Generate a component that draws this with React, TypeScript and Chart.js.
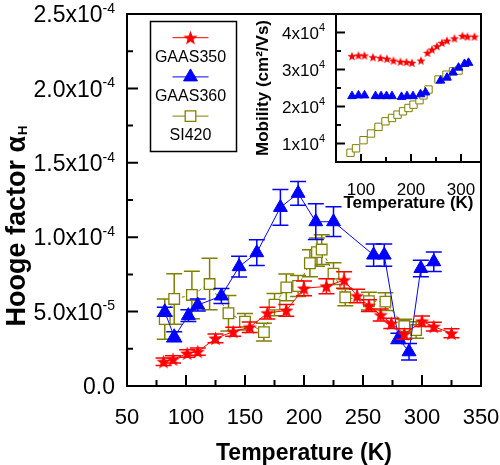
import React, { useEffect, useRef } from 'react';
import { Chart, registerables } from 'chart.js';
import { drawPoint } from 'chart.js/helpers';
Chart.register(...registerables);

const FONT = "'Liberation Sans', Arial, Helvetica, sans-serif";
const RED = '#ff0000';
const BLUE = '#0000ff';
const OLIVE = '#808000';

// ---------- main plot: Hooge factor (values in units of 1e-5) ----------
const T_GAAS350 = [81, 89, 101, 110, 125, 140, 154, 169, 185, 200, 219, 234, 245, 255, 265, 274, 285, 300, 310, 325];
const A_GAAS350 = [1.63, 1.79, 2.19, 2.31, 3.2, 3.65, 3.95, 4.9, 5.08, 6.56, 6.7, 7.12, 6.05, 5.4, 4.77, 4.21, 3.49, 4.35, 3.99, 3.54];
const E_GAAS350 = [0.25, 0.25, 0.25, 0.25, 0.3, 0.3, 0.35, 0.4, 0.4, 0.5, 0.5, 0.55, 0.45, 0.4, 0.4, 0.35, 0.35, 0.35, 0.3, 0.3];

const T_GAAS360 = [82, 90, 102, 110, 130, 145, 160, 180, 195, 210, 225, 259, 268, 280, 289, 299, 310];
const A_GAAS360 = [4.99, 3.31, 4.73, 5.44, 6.05, 8.02, 8.96, 12.0, 12.95, 11.04, 11.04, 8.8, 8.8, 3.2, 2.3, 7.9, 8.35];
const E_GAAS360 = [0.3, 0.33, 0.4, 0.4, 0.5, 0.7, 0.87, 1.2, 0.8, 1.2, 1.0, 0.75, 0.75, 0.35, 0.55, 0.55, 0.65];

const T_SI420 = [82, 90, 105, 120, 136, 150, 166, 175, 185, 195, 205, 211, 215, 225, 235, 255, 269, 285, 295];
const A_SI420 = [4.5, 5.85, 6.12, 6.85, 4.89, 4.32, 3.62, 5.47, 6.63, 6.72, 8.25, 9.0, 9.17, 7.55, 5.96, 5.7, 5.67, 4.03, 3.76];
const E_SI420 = [1.35, 1.7, 1.6, 1.73, 1.2, 0.56, 0.6, 0.75, 0.9, 0.7, 0.9, 0.95, 1.0, 0.73, 0.56, 0.6, 0.6, 0.45, 0.55];

const MAIN_Y_TICKS = [0, 5, 10, 15, 20, 25];
const MAIN_Y_MANT = ['0.0', '5.0x10', '1.0x10', '1.5x10', '2.0x10', '2.5x10'];
const MAIN_Y_EXP = ['', '-5', '-4', '-4', '-4', '-4'];

// ---------- inset: mobility (values in units of 1e4 cm²/Vs) ----------
const IT_GAAS350 = [82, 95, 107, 124, 139, 152, 165, 179, 191, 202, 220, 233, 242, 252, 262, 272, 287, 303, 313, 327];
const IM_GAAS350 = [3.36, 3.38, 3.38, 3.33, 3.31, 3.29, 3.24, 3.21, 3.2, 3.18, 3.24, 3.45, 3.54, 3.63, 3.72, 3.78, 3.84, 3.91, 3.89, 3.89];

const IT_GAAS360 = [82, 95, 107, 129, 140, 151, 162, 181, 192, 204, 219, 229, 259, 272, 284, 295, 307, 315];
const IM_GAAS360 = [2.28, 2.3, 2.3, 2.28, 2.28, 2.28, 2.28, 2.26, 2.28, 2.28, 2.33, 2.38, 2.7, 2.78, 2.92, 3.05, 3.15, 3.18];

const IT_SI420 = [79, 90, 105, 120, 135, 149, 162, 173, 184, 195, 205, 217, 225, 235, 255, 271, 284, 295];
const IM_SI420 = [0.75, 0.87, 1.09, 1.27, 1.45, 1.6, 1.69, 1.78, 1.87, 1.96, 2.05, 2.17, 2.3, 2.46, 2.73, 2.86, 2.95, 2.97];

const INSET_X_TICKS = [100, 200, 300];
const INSET_Y_TICKS = [1, 2, 3, 4];
const INSET_Y_MANT = ['1x10', '2x10', '3x10', '4x10'];
const INSET_Y_EXP = ['4', '4', '4', '4'];

const LEGEND_NAMES = ['GAAS350', 'GAAS360', 'SI420'];

function makeStar(r: number, color: string): HTMLCanvasElement {
  const size = Math.ceil(r * 2 + 2);
  const c = document.createElement('canvas');
  c.width = size;
  c.height = size;
  const ctx = c.getContext('2d')!;
  const cx = size / 2;
  const cy = size / 2 + r * 0.08;
  ctx.beginPath();
  for (let i = 0; i < 10; i++) {
    const rr = i % 2 === 0 ? r : r * 0.42;
    const a = -Math.PI / 2 + (i * Math.PI) / 5;
    const x = cx + rr * Math.cos(a);
    const y = cy + rr * Math.sin(a);
    if (i === 0) ctx.moveTo(x, y);
    else ctx.lineTo(x, y);
  }
  ctx.closePath();
  ctx.fillStyle = color;
  ctx.fill();
  return c;
}

function drawSupLabel(ctx: CanvasRenderingContext2D, base: string, sup: string, xRight: number, yMid: number, bs: number, ss: number) {
  ctx.font = `${bs}px ${FONT}`;
  const wb = ctx.measureText(base).width;
  ctx.font = `${ss}px ${FONT}`;
  const ws = sup ? ctx.measureText(sup).width : 0;
  ctx.textAlign = 'left';
  ctx.textBaseline = 'alphabetic';
  const cap = bs * 0.716;
  const baseline = yMid + cap / 2;
  ctx.font = `${bs}px ${FONT}`;
  ctx.fillText(base, xRight - ws - wb, baseline);
  if (sup) {
    ctx.font = `${ss}px ${FONT}`;
    ctx.fillText(sup, xRight - ws, baseline - cap - 3 + ss * 0.716);
  }
}

function drawTicksX(ctx: CanvasRenderingContext2D, scale: any, yEdge: number, maj: number, min: number) {
  const vals = scale.ticks.map((t: any) => t.value);
  ctx.beginPath();
  vals.forEach((v: number) => {
    const x = scale.getPixelForValue(v);
    ctx.moveTo(x, yEdge);
    ctx.lineTo(x, yEdge - maj);
  });
  for (let i = 0; i < vals.length - 1; i++) {
    const x = scale.getPixelForValue((vals[i] + vals[i + 1]) / 2);
    ctx.moveTo(x, yEdge);
    ctx.lineTo(x, yEdge - min);
  }
  ctx.stroke();
}

function drawTicksY(ctx: CanvasRenderingContext2D, scale: any, xEdge: number, maj: number, min: number) {
  const vals = scale.ticks.map((t: any) => t.value);
  ctx.beginPath();
  vals.forEach((v: number) => {
    const y = scale.getPixelForValue(v);
    ctx.moveTo(xEdge, y);
    ctx.lineTo(xEdge + maj, y);
  });
  for (let i = 0; i < vals.length - 1; i++) {
    const y = scale.getPixelForValue((vals[i] + vals[i + 1]) / 2);
    ctx.moveTo(xEdge, y);
    ctx.lineTo(xEdge + min, y);
  }
  ctx.stroke();
}

const errorBarPlugin = {
  id: 'errorBars',
  beforeDatasetDraw(chart: any, args: any) {
    const ds = chart.data.datasets[args.index];
    if (!ds.errors) return;
    const ctx = chart.ctx;
    const ys = chart.scales.y;
    const cap = 8;
    ctx.save();
    ctx.strokeStyle = ds.borderColor;
    ctx.lineWidth = 1.5;
    ctx.setLineDash([]);
    args.meta.data.forEach((pt: any, i: number) => {
      const v = ds.data[i].y;
      const e = ds.errors[i];
      const x = pt.x;
      const yt = ys.getPixelForValue(v + e);
      const yb = ys.getPixelForValue(v - e);
      ctx.beginPath();
      ctx.moveTo(x, yt);
      ctx.lineTo(x, yb);
      ctx.moveTo(x - cap, yt);
      ctx.lineTo(x + cap, yt);
      ctx.moveTo(x - cap, yb);
      ctx.lineTo(x + cap, yb);
      ctx.stroke();
    });
    ctx.restore();
  },
};

const mainDecor = {
  id: 'mainDecor',
  afterDraw(chart: any) {
    const ctx: CanvasRenderingContext2D = chart.ctx;
    const { left, right, top, bottom } = chart.chartArea;
    const xs = chart.scales.x;
    const ys = chart.scales.y;
    ctx.save();
    ctx.strokeStyle = '#000';
    ctx.lineWidth = 2;
    ctx.strokeRect(left, top, right - left, bottom - top);
    drawTicksX(ctx, xs, bottom, 11, 6);
    drawTicksY(ctx, ys, left, 11, 6);
    ctx.fillStyle = '#000';
    ys.ticks.forEach((t: any) => {
      const idx = MAIN_Y_TICKS.indexOf(t.value);
      if (idx < 0) return;
      drawSupLabel(ctx, MAIN_Y_MANT[idx], MAIN_Y_EXP[idx], left - 12, ys.getPixelForValue(t.value), 23, 14);
    });
    // y axis title with subscript
    ctx.save();
    ctx.translate(25, 226);
    ctx.rotate(-Math.PI / 2);
    const mainT = 'Hooge factor \u03B1';
    ctx.font = `bold 27px ${FONT}`;
    const w1 = ctx.measureText(mainT).width;
    ctx.font = `bold 13px ${FONT}`;
    const w2 = ctx.measureText('H').width;
    const total = w1 + 1 + w2;
    ctx.textAlign = 'left';
    ctx.textBaseline = 'alphabetic';
    ctx.font = `bold 27px ${FONT}`;
    ctx.fillText(mainT, -total / 2, 0);
    ctx.font = `bold 13px ${FONT}`;
    ctx.fillText('H', -total / 2 + w1 + 1, 2);
    ctx.restore();

    // legend
    ctx.lineWidth = 1.5;
    ctx.strokeStyle = '#000';
    ctx.strokeRect(150.5, 21.5, 86, 130);
    const cx = 190.5;
    chart.data.datasets.forEach((ds: any, i: number) => {
      const sy = 37.7 + i * 39.2;
      const ty = 57.7 + i * 38.7;
      ctx.strokeStyle = ds.borderColor;
      ctx.lineWidth = 1;
      ctx.setLineDash([]);
      ctx.beginPath();
      ctx.moveTo(cx - 18, sy);
      ctx.lineTo(cx + 18, sy);
      ctx.stroke();
      ctx.fillStyle = ds.pointBackgroundColor;
      ctx.strokeStyle = ds.pointBorderColor;
      ctx.lineWidth = ds.pointBorderWidth;
      drawPoint(ctx, { pointStyle: ds.pointStyle, rotation: 0, radius: ds.pointRadius, borderWidth: ds.pointBorderWidth } as any, cx, sy);
      ctx.fillStyle = '#000';
      ctx.font = `16px ${FONT}`;
      ctx.textAlign = 'center';
      ctx.textBaseline = 'middle';
      ctx.fillText(LEGEND_NAMES[i], cx, ty);
    });
    ctx.restore();
  },
};

const insetDecor = {
  id: 'insetDecor',
  afterDraw(chart: any) {
    const ctx: CanvasRenderingContext2D = chart.ctx;
    const { left, right, top, bottom } = chart.chartArea;
    const xs = chart.scales.x;
    const ys = chart.scales.y;
    ctx.save();
    ctx.strokeStyle = '#000';
    ctx.lineWidth = 2;
    ctx.strokeRect(left, top, right - left, bottom - top);
    drawTicksX(ctx, xs, bottom, 8, 5);
    drawTicksY(ctx, ys, left, 9, 5);
    ctx.fillStyle = '#000';
    ys.ticks.forEach((t: any) => {
      const idx = INSET_Y_TICKS.indexOf(t.value);
      if (idx < 0) return;
      drawSupLabel(ctx, INSET_Y_MANT[idx], INSET_Y_EXP[idx], left - 11, ys.getPixelForValue(t.value), 17, 11);
    });
    ctx.restore();
  },
};

function pts(xs: number[], ys: number[]) {
  return xs.map((x, i) => ({ x, y: ys[i] }));
}

const noPad = (s: any) => {
  s.paddingLeft = 0;
  s.paddingRight = 0;
  s.paddingTop = 0;
  s.paddingBottom = 0;
};

export default function App() {
  const mainRef = useRef<HTMLCanvasElement>(null);
  const insetRef = useRef<HTMLCanvasElement>(null);

  useEffect(() => {
    const starMain = makeStar(7.5, RED);
    const starInset = makeStar(4.8, RED);

    const main = new Chart(mainRef.current!, {
      type: 'scatter',
      data: {
        datasets: [
          {
            label: 'GAAS350',
            data: pts(T_GAAS350, A_GAAS350),
            errors: E_GAAS350,
            showLine: true,
            borderColor: RED,
            borderWidth: 1,
            pointStyle: starMain,
            pointRadius: 7.5,
            pointBackgroundColor: RED,
            pointBorderColor: RED,
            pointBorderWidth: 0,
            order: 1,
          } as any,
          {
            label: 'GAAS360',
            data: pts(T_GAAS360, A_GAAS360),
            errors: E_GAAS360,
            showLine: true,
            borderColor: BLUE,
            borderWidth: 1,
            pointStyle: 'triangle',
            pointRadius: 8,
            pointBackgroundColor: BLUE,
            pointBorderColor: BLUE,
            pointBorderWidth: 1,
            order: 2,
          } as any,
          {
            label: 'SI420',
            data: pts(T_SI420, A_SI420),
            errors: E_SI420,
            showLine: true,
            borderColor: OLIVE,
            borderWidth: 1,
            borderDash: [3, 3],
            pointStyle: 'rect',
            pointRadius: 7.5,
            pointBackgroundColor: '#ffffff',
            pointBorderColor: OLIVE,
            pointBorderWidth: 1.3,
            order: 3,
          } as any,
        ],
      },
      options: {
        responsive: false,
        animation: false,
        layout: { padding: { left: 0, right: 19, top: 14, bottom: 0 } },
        plugins: { legend: { display: false }, tooltip: { enabled: false } },
        scales: {
          x: {
            type: 'linear',
            min: 50,
            max: 350,
            ticks: { stepSize: 50, autoSkip: false, maxRotation: 0, color: '#000', padding: 11, font: { size: 22, family: FONT } },
            grid: { display: false },
            border: { display: false },
            title: { display: true, text: 'Temperature (K)', color: '#000', padding: { top: 0, bottom: 0 }, font: { size: 23, weight: 'bold', family: FONT, lineHeight: 1 } },
            afterFit: (s: any) => { s.height = 79; noPad(s); },
          },
          y: {
            type: 'linear',
            min: 0,
            max: 25,
            afterBuildTicks: (s: any) => { s.ticks = MAIN_Y_TICKS.map((v) => ({ value: v })); },
            ticks: { display: false },
            grid: { display: false },
            border: { display: false },
            afterFit: (s: any) => { s.width = 127; noPad(s); },
          },
        },
      } as any,
      plugins: [errorBarPlugin, mainDecor],
    });

    const inset = new Chart(insetRef.current!, {
      type: 'scatter',
      data: {
        datasets: [
          {
            label: 'GAAS350',
            data: pts(IT_GAAS350, IM_GAAS350),
            pointStyle: starInset,
            pointRadius: 4.8,
            pointBackgroundColor: RED,
            pointBorderColor: RED,
            order: 1,
          } as any,
          {
            label: 'GAAS360',
            data: pts(IT_GAAS360, IM_GAAS360),
            pointStyle: 'triangle',
            pointRadius: 5,
            pointBackgroundColor: BLUE,
            pointBorderColor: BLUE,
            pointBorderWidth: 1,
            order: 2,
          } as any,
          {
            label: 'SI420',
            data: pts(IT_SI420, IM_SI420),
            pointStyle: 'rect',
            pointRadius: 5.2,
            pointBackgroundColor: '#ffffff',
            pointBorderColor: OLIVE,
            pointBorderWidth: 1,
            order: 3,
          } as any,
        ],
      },
      options: {
        responsive: false,
        animation: false,
        layout: { padding: { left: 0, right: 19, top: 14, bottom: 0 } },
        plugins: { legend: { display: false }, tooltip: { enabled: false } },
        scales: {
          x: {
            type: 'linear',
            min: 50,
            max: 340,
            afterBuildTicks: (s: any) => { s.ticks = INSET_X_TICKS.map((v) => ({ value: v })); },
            ticks: { autoSkip: false, maxRotation: 0, color: '#000', padding: 10, font: { size: 17, family: FONT } },
            grid: { display: false },
            border: { display: false },
            title: { display: true, text: 'Temperature (K)', color: '#000', padding: { top: 0, bottom: 8.5 }, font: { size: 17, weight: 'bold', family: FONT, lineHeight: 1 } },
            afterFit: (s: any) => { s.height = 58; noPad(s); },
          },
          y: {
            type: 'linear',
            min: 0.5,
            max: 4.5,
            afterBuildTicks: (s: any) => { s.ticks = INSET_Y_TICKS.map((v) => ({ value: v })); },
            ticks: { display: false },
            grid: { display: false },
            border: { display: false },
            title: { display: true, text: 'Mobility (cm\u00B2/Vs)', color: '#000', padding: { top: 14.5, bottom: 0 }, font: { size: 17, weight: 'bold', family: FONT, lineHeight: 1 } },
            afterFit: (s: any) => { s.width = 96; noPad(s); },
          },
        },
      } as any,
      plugins: [insetDecor],
    });

    return () => {
      main.destroy();
      inset.destroy();
    };
  }, []);

  return (
    <div style={{ position: 'absolute', left: 0, top: 0, width: 500, height: 465, background: '#fff' }}>
      <canvas ref={mainRef} width={500} height={465} style={{ position: 'absolute', left: 0, top: 0 }} />
      <canvas ref={insetRef} width={260} height={220} style={{ position: 'absolute', left: 240, top: 0 }} />
    </div>
  );
}
